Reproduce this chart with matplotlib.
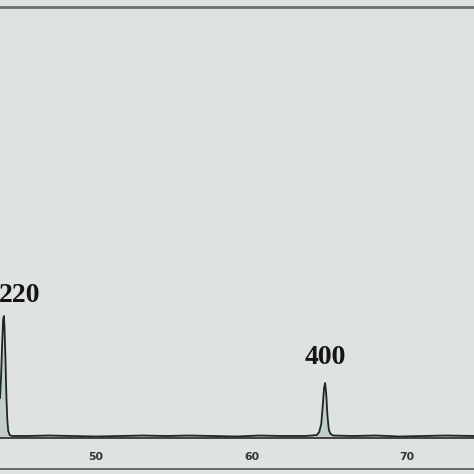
import matplotlib
matplotlib.use("Agg")
import matplotlib.pyplot as plt
from matplotlib.lines import Line2D

# XRD pattern (2theta in degrees, intensity in a.u.)
two_theta = [43.83, 43.90, 43.97, 44.03, 44.08, 44.12, 44.18, 44.24, 44.30, 44.36, 44.45, 44.60,
             45.5, 47.0, 48.5, 50.0, 51.5, 53.0, 54.5, 56.0, 57.5, 59.0, 60.5, 62.0, 63.5,
             64.20, 64.35, 64.48, 64.58, 64.66, 64.73, 64.80, 64.88, 64.97, 65.08, 65.25,
             66.5, 68.0, 69.5, 71.0, 72.5, 74.3]
intensity = [40, 62, 95, 118, 122, 110, 80, 42, 18, 7, 3, 2,
             2, 2.5, 2, 1.5, 2, 2.5, 2, 2.5, 2, 1.5, 2.5, 2, 2,
             3, 6, 14, 33, 50, 55, 44, 22, 8, 4, 2.5,
             2, 2.5, 1.5, 2, 2.5, 2]

peak_labels = ["220", "400"]
peak_pos = [45.08, 64.73]
label_height = [143, 80]

xticks = [50, 60, 70]
xlim = (43.83, 74.3)

bg = "#dee2e1"

fig = plt.figure(figsize=(4.74, 4.74), dpi=100, facecolor=bg)
ax = fig.add_axes([0, 36 / 474, 1, 431 / 474], facecolor=bg)

ax.plot(two_theta, intensity, color="#1c2828", lw=1.3)
ax.fill_between(two_theta, 0, intensity, color="#8fa8a6", alpha=0.35, lw=0)

for lab, xp, yp in zip(peak_labels, peak_pos, label_height):
    ax.text(xp, yp, lab, ha="center", va="center", fontsize=20,
            family="Liberation Serif", fontweight="bold", color="#151515")

ax.set_xlim(*xlim)
ax.set_ylim(0, 431)
ax.set_xticks(xticks)
ax.set_xticklabels([str(t) for t in xticks], fontsize=7.8, fontweight="bold", color="#333333")
ax.tick_params(axis="x", length=0, pad=10)
ax.set_yticks([])

for s in ["left", "right"]:
    ax.spines[s].set_visible(False)
ax.spines["top"].set_color("#6e6e6e")
ax.spines["top"].set_linewidth(2)
ax.spines["bottom"].set_color("#2a2a2a")
ax.spines["bottom"].set_linewidth(1.2)

# lower frame line under the tick labels
fig.add_artist(Line2D([0, 1], [5 / 474, 5 / 474], color="#555555", lw=1.2))

fig.savefig("out.png", dpi=100, facecolor=bg)
